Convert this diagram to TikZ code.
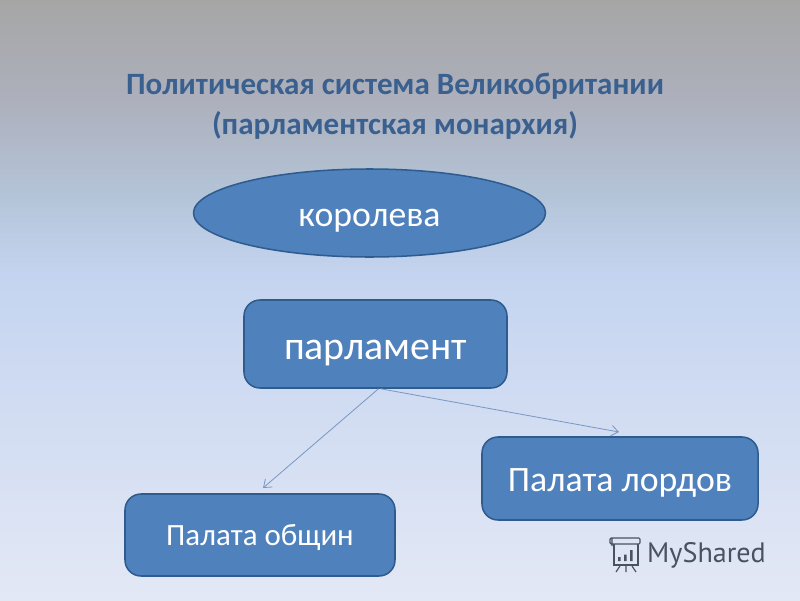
\documentclass[tikz,border=0pt]{standalone}
\usepackage{fontspec}
\setmainfont{Carlito}
\newfontfamily\logofont{PT Sans}
\usetikzlibrary{shapes.geometric,arrows.meta}
\definecolor{boxfill}{HTML}{4F81BD}
\definecolor{boxline}{HTML}{2F5C8F}
\definecolor{titleblue}{HTML}{3A6090}
\definecolor{arrowblue}{HTML}{7C97C4}
\definecolor{logogray}{HTML}{4A5260}
\definecolor{bgtop}{HTML}{A6A6A6}
\definecolor{bgupper}{HTML}{ADB0BC}
\definecolor{bgmiddle}{HTML}{B3C3D6}
\definecolor{bgmid}{HTML}{C4D4F0}
\definecolor{bgbottom}{HTML}{E3E8F5}
\tikzset{
  blockbox/.style={draw=boxline,fill=boxfill,line width=1.3pt,rounded corners=0.48cm,text=white,text depth=0pt},
  titletext/.style={text=titleblue,font=\bfseries\fontsize{26.5}{30}\selectfont},
  linkarrow/.style={draw=arrowblue,line width=0.7pt,-{Straight Barb[length=6pt,width=9pt]}}
}
\begin{document}
\begin{tikzpicture}
\useasboundingbox (0,0) rectangle (24,18);
% background
\shade[top color=bgtop,bottom color=bgupper] (0,18) rectangle (24,15);
\shade[top color=bgupper,bottom color=bgmiddle] (0,15) rectangle (24,12.3);
\shade[top color=bgmiddle,bottom color=bgmid] (0,12.3) rectangle (24,9.75);
\shade[top color=bgmid,bottom color=bgbottom] (0,9.75) rectangle (24,0);

% title
\path (11.85,15.42) node[titletext] (T1) {Политическая система Великобритании};
\path (11.85,14.25) node[titletext] (T2) {(парламентская монархия)};

% boxes
\path (11.085,11.61) node[blockbox,shape=ellipse,minimum width=10.56cm,minimum height=2.64cm,inner sep=0pt,text height=22.6pt,font=\fontsize{30.5}{34}\selectfont] (Q) {королева};
\path (11.265,7.68) node[blockbox,minimum width=7.89cm,minimum height=2.64cm,text height=26pt,font=\fontsize{34}{38}\selectfont] (P) {парламент};
\path (18.6,3.645) node[blockbox,minimum width=8.28cm,minimum height=2.49cm,text height=23pt,font=\fontsize{30.5}{34}\selectfont] (L) {Палата лордов};
\path (7.8,1.95) node[blockbox,minimum width=8.1cm,minimum height=2.46cm,text height=18pt,font=\fontsize{26.4}{30}\selectfont] (C) {Палата общин};

% arrows
\coordinate (Cend) at (7.89,3.36);
\coordinate (Lend) at (18.57,5.04);
\draw[linkarrow] (P.south) ++(0.09,0) coordinate (Pa) (Pa) -- (Cend);
\draw[linkarrow] (P.south) ++(0.15,0) coordinate (Pb) (Pb) -- (Lend);

% logo
\begin{scope}[draw=logogray,line width=1pt,logogray]
\draw[rounded corners=1pt] (18.36,1.86) -- (18.36,1.62) (18.3,1.86) -- (19.2,1.86) -- (19.2,1.68) -- (18.3,1.68) -- cycle;
\draw[line width=1.3pt] (18.42,1.68) -- (18.42,1.05) -- (19.14,1.05) -- (19.14,1.68);
\fill (18.54,1.17) rectangle (18.62,1.29) (18.72,1.17) rectangle (18.8,1.36) (18.9,1.17) rectangle (18.98,1.5);
\draw (18.6,1.02) -- (18.48,0.84) (18.78,1.02) -- (18.78,0.84) (18.96,1.02) -- (19.08,0.84);
\end{scope}
\path (19.41,1.35) node[anchor=west,inner sep=0pt,text=logogray,font=\logofont\fontsize{24}{28}\selectfont] (M) {MyShared};
\end{tikzpicture}
\end{document}
